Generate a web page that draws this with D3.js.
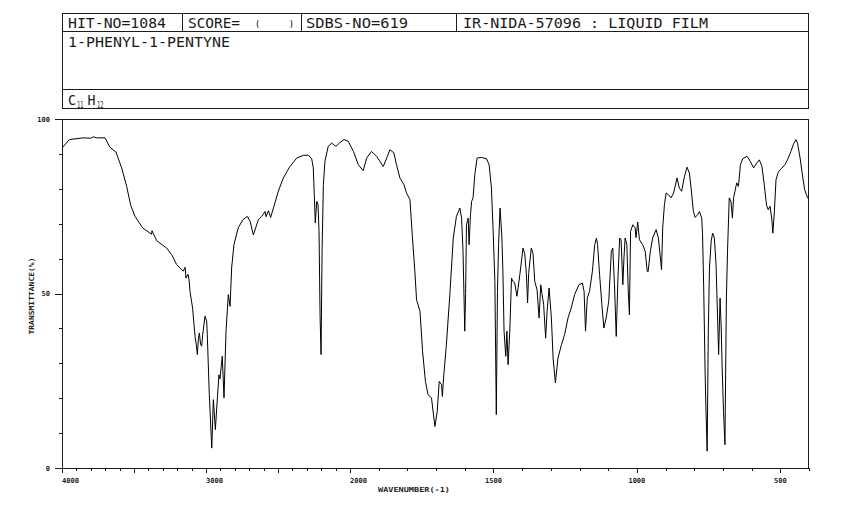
<!DOCTYPE html>
<html><head><meta charset="utf-8">
<script src="https://cdn.jsdelivr.net/npm/d3@7"></script>
<style>
html,body{margin:0;padding:0;background:#fff;}
svg{display:block;}
</style></head>
<body>
<svg id="chart" width="847" height="512"></svg>
<script>
// ---- data ----
const wavenumbers = [3995,3949,3852,3800,3783,3760,3701,3667,3625,3586,3551,3523,3493,3440,3389,3378,3375,3342,3273,3238,3204,3158,3145,3139,3125,3118,3111,3093,3076,3068,3060,3053,3046,3038,3030,3023,3007,2995,2991,2977,2960,2949,2935,2921,2910,2903,2887,2875,2861,2845,2833,2822,2806,2776,2745,2713,2694,2671,2637,2613,2590,2583,2567,2551,2528,2498,2463,2417,2370,2324,2289,2266,2255,2248,2241,2231,2222,2215,2208,2201,2194,2185,2174,2151,2127,2110,2097,2074,2042,2012,1988,1971,1954,1942,1925,1907,1884,1872,1861,1847,1838,1826,1812,1803,1791,1783,1774,1768,1756,1747,1737,1728,1716,1704,1696,1689,1681,1678,1673,1664,1652,1640,1629,1617,1611,1606,1600,1597,1594,1588,1585,1580,1576,1571,1565,1557,1542,1524,1515,1507,1501,1495,1490,1486,1482,1477,1471,1467,1463,1457,1453,1449,1443,1437,1432,1426,1418,1408,1397,1391,1385,1381,1377,1368,1362,1356,1348,1341,1335,1331,1325,1318,1313,1306,1298,1292,1284,1275,1263,1252,1240,1229,1217,1202,1190,1184,1179,1173,1165,1155,1147,1141,1137,1130,1122,1115,1107,1098,1089,1084,1078,1072,1066,1060,1055,1049,1045,1041,1035,1030,1026,1022,1014,1006,1003,997,991,980,971,964,961,953,945,933,925,918,914,910,904,898,890,881,872,860,852,844,834,825,817,811,803,797,788,782,774,771,767,762,759,755,751,747,741,736,730,724,719,715,710,706,703,698,693,688,684,678,672,667,663,658,652,646,639,631,616,605,593,582,573,564,556,548,542,536,530,526,521,515,507,496,484,475,463,454,446,440,431,423,415,405,400];
const transmittance = [91.9,94.1,94.6,94.5,94.9,94.6,94.6,91.9,90.5,86.0,80.7,75.3,72.1,68.8,67.3,67.0,68.0,65.1,63.0,61.1,58.3,56.4,57.5,54.4,55.5,54.0,50.6,45.8,37.7,35.5,32.5,37.0,38.7,35.5,34.9,38.2,43.5,42.0,38.2,21.0,5.7,19.6,11.0,20.1,26.7,25.5,32.0,20.1,39.2,49.7,46.3,57.3,64.0,68.8,71.1,72.1,70.7,66.8,71.1,72.1,73.5,72.0,73.7,71.8,75.0,79.3,83.1,86.4,88.8,89.6,89.6,88.6,86.0,78.3,70.2,76.4,75.4,67.8,43.9,32.5,62.1,81.2,87.9,92.2,93.1,92.5,92.2,93.1,94.1,93.6,90.7,86.9,85.2,88.8,90.7,89.3,86.4,88.8,91.2,90.3,86.9,83.1,81.2,78.8,76.9,66.8,56.4,48.2,44.9,33.4,24.8,21.0,20.1,11.9,16.2,24.8,23.9,20.5,26.7,35.3,49.7,65.9,72.1,74.5,71.6,62.1,39.2,50.0,69.7,71.6,64.0,72.6,76.4,77.4,84.0,88.8,89.0,88.6,86.9,80.2,67.8,53.5,15.3,50.6,64.0,74.5,66.8,56.4,39.2,32.0,39.2,29.6,39.2,54.4,53.5,53.0,49.2,55.4,63.0,61.5,55.4,47.3,56.0,63.0,61.5,53.5,51.1,43.0,52.5,50.0,46.8,37.2,44.9,51.6,43.0,31.5,24.4,31.5,35.3,38.2,43.0,45.8,49.7,52.5,53.0,50.6,39.2,48.7,50.6,56.4,64.0,65.9,64.0,55.4,46.8,40.1,43.0,47.8,62.1,63.0,52.5,37.7,54.4,65.9,65.4,52.5,60.2,65.9,64.0,50.6,43.9,67.8,69.7,68.8,66.0,70.5,65.4,64.0,62.1,56.4,56.2,62.1,65.9,68.3,65.9,60.2,56.8,68.8,75.4,78.8,78.3,77.4,78.8,83.1,80.2,79.3,83.6,86.2,84.5,80.2,73.5,71.8,72.6,73.5,71.6,66.8,51.6,26.7,16.2,4.8,39.2,57.3,65.0,67.3,65.9,58.3,43.9,32.5,48.7,40.1,29.6,16.2,6.7,48.7,62.1,77.4,76.4,71.6,77.4,79.3,81.7,80.7,86.9,88.6,89.3,87.9,86.0,87.4,88.3,86.4,81.2,75.3,74.0,75.0,71.6,67.3,73.1,82.6,84.8,85.8,86.9,88.3,90.7,92.8,94.1,93.1,88.8,84.0,79.7,77.4,77.0];
const xTickValues = d3.range(4000, 399, -100);
const xTickLabels = [4000, 3000, 2000, 1500, 1000, 500];
const yTickValues = d3.range(0, 101, 10);
const yTickLabels = [0, 50, 100];

const headerTop = ["HIT-NO=1084", "SCORE=", "SDBS-NO=619", "IR-NIDA-57096 : LIQUID FILM"];
const compoundName = "1-PHENYL-1-PENTYNE";

// ---- layout ----
const svg = d3.select("#chart");
const L = 62, R = 809, T = 119, B = 468;
const x = d3.scaleLinear().domain([4000, 2000, 400]).range([L, 350, R]);
const y = d3.scaleLinear().domain([0, 100]).range([B, T]);
const ink = "#1a1a1a";
const mono = "'DejaVu Sans Mono', 'Liberation Mono', monospace";

// header box
const hg = svg.append("g").attr("stroke", ink).attr("stroke-width", 1).attr("fill", "none");
hg.append("rect").attr("x", 62.5).attr("y", 13.5).attr("width", 746).attr("height", 95);
hg.append("line").attr("x1", 62.5).attr("x2", 808.5).attr("y1", 31.5).attr("y2", 31.5);
hg.append("line").attr("x1", 62.5).attr("x2", 808.5).attr("y1", 89.5).attr("y2", 89.5);
[182.5, 301.5, 456.5].forEach(v => hg.append("line").attr("x1", v).attr("x2", v).attr("y1", 13.5).attr("y2", 31.5));

const ht = svg.append("g").attr("fill", ink).attr("font-family", mono).attr("font-size", 14);
function t(txt, px, py, len, sc) {
  const e = ht.append("text").text(txt);
  if (sc) e.attr("transform", `translate(${px},${py}) scale(${sc})`);
  else e.attr("x", px).attr("y", py);
  if (len) e.attr("textLength", len).attr("lengthAdjust", "spacingAndGlyphs");
  return e;
}
t(headerTop[0], 68, 28, 98);
t(headerTop[1], 188, 28, 52);
t("(", 255, 27, 0, 0.6).attr("fill", "#000");
t(")", 289, 27, 0, 0.6).attr("fill", "#000");
t(headerTop[2], 306, 28, 102);
t(headerTop[3], 463, 28, 245);
t(compoundName, 68, 47, 162);
t("C", 68, 105, 8);
t("11", 77, 107.5, 10, 0.65);
t("H", 87.5, 105, 8);
t("12", 97, 107.5, 10, 0.65);

// plot frame
svg.append("rect").attr("x", L + 0.5).attr("y", T + 0.5).attr("width", R - L - 1).attr("height", B - T)
  .attr("fill", "none").attr("stroke", ink).attr("stroke-width", 1);

// ticks
const ag = svg.append("g").attr("stroke", ink).attr("stroke-width", 1);
xTickValues.forEach(v => {
  const major = v % 500 === 0;
  const px = Math.round(x(v)) + 0.5;
  ag.append("line").attr("x1", px).attr("x2", px).attr("y1", B).attr("y2", B + (major ? 5 : 3));
});
yTickValues.forEach(v => {
  const major = v % 50 === 0;
  const py = Math.round(y(v)) + 0.5;
  ag.append("line").attr("x1", L - (major ? 7 : 3)).attr("x2", L).attr("y1", py).attr("y2", py);
});

const lg = svg.append("g").attr("fill", ink).attr("font-family", mono).attr("font-size", 7).attr("font-weight", "bold");
xTickLabels.forEach(v => {
  lg.append("text").attr("x", x(v)).attr("y", 483)
    .attr("text-anchor", v >= 2000 ? "start" : "middle").text(v);
});
yTickLabels.forEach(v => {
  lg.append("text").attr("x", 50).attr("y", y(v) + 2.5).attr("text-anchor", "end").text(v);
});
lg.append("text").attr("x", 378).attr("y", 492).attr("textLength", 72).attr("lengthAdjust","spacingAndGlyphs").text("WAVENUMBER(-1)");
lg.append("text").attr("transform", "translate(34,296) rotate(-90)").attr("text-anchor", "middle")
  .attr("textLength", 77).attr("lengthAdjust","spacingAndGlyphs").text("TRANSMITTANCE(%)");

// spectrum
const pts = wavenumbers.map((w, i) => [w, transmittance[i]]);
const line = d3.line().x(d => x(d[0])).y(d => y(d[1]));
svg.append("path").datum(pts).attr("d", line).attr("fill", "none").attr("stroke", "#000").attr("stroke-width", 1);
</script>
</body></html>
